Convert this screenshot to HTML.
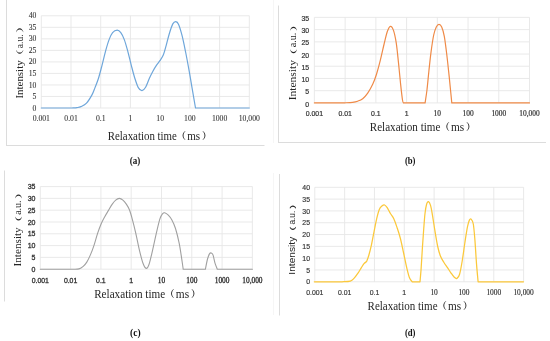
<!DOCTYPE html>
<html><head><meta charset="utf-8"><style>
html,body{margin:0;padding:0;background:#fff;width:550px;height:341px;overflow:hidden}
svg{display:block}
</style></head><body>
<svg width="550" height="341" viewBox="0 0 550 341">
<rect width="550" height="341" fill="#fff"/>

<line x1="6.5" y1="0" x2="6.5" y2="145.5" stroke="#dcdcdc" stroke-width="1"/>
<line x1="6" y1="145.5" x2="264.5" y2="145.5" stroke="#dcdcdc" stroke-width="1"/>
<line x1="273.5" y1="0" x2="273.5" y2="143" stroke="#f6f6f6" stroke-width="1"/>
<line x1="278.5" y1="5.5" x2="278.5" y2="142.5" stroke="#dcdcdc" stroke-width="1"/>
<line x1="278" y1="142.5" x2="546" y2="142.5" stroke="#dcdcdc" stroke-width="1"/>
<line x1="4.5" y1="170.5" x2="4.5" y2="301.5" stroke="#dcdcdc" stroke-width="1"/>
<line x1="273.5" y1="173" x2="273.5" y2="315" stroke="#f6f6f6" stroke-width="1"/>
<line x1="279.5" y1="174" x2="279.5" y2="315.5" stroke="#dcdcdc" stroke-width="1"/>

<line x1="41.30" y1="15.80" x2="249.30" y2="15.80" stroke="#e6e6e6" stroke-width="0.90"/>
<line x1="41.30" y1="27.33" x2="249.30" y2="27.33" stroke="#e6e6e6" stroke-width="0.90"/>
<line x1="41.30" y1="38.85" x2="249.30" y2="38.85" stroke="#e6e6e6" stroke-width="0.90"/>
<line x1="41.30" y1="50.38" x2="249.30" y2="50.38" stroke="#e6e6e6" stroke-width="0.90"/>
<line x1="41.30" y1="61.90" x2="249.30" y2="61.90" stroke="#e6e6e6" stroke-width="0.90"/>
<line x1="41.30" y1="73.42" x2="249.30" y2="73.42" stroke="#e6e6e6" stroke-width="0.90"/>
<line x1="41.30" y1="84.95" x2="249.30" y2="84.95" stroke="#e6e6e6" stroke-width="0.90"/>
<line x1="41.30" y1="96.47" x2="249.30" y2="96.47" stroke="#e6e6e6" stroke-width="0.90"/>
<line x1="41.30" y1="108.00" x2="249.30" y2="108.00" stroke="#e6e6e6" stroke-width="0.90"/>
<line x1="41.30" y1="15.80" x2="41.30" y2="108.00" stroke="#e6e6e6" stroke-width="0.90"/>
<line x1="71.01" y1="15.80" x2="71.01" y2="108.00" stroke="#e6e6e6" stroke-width="0.90"/>
<line x1="100.73" y1="15.80" x2="100.73" y2="108.00" stroke="#e6e6e6" stroke-width="0.90"/>
<line x1="130.44" y1="15.80" x2="130.44" y2="108.00" stroke="#e6e6e6" stroke-width="0.90"/>
<line x1="160.16" y1="15.80" x2="160.16" y2="108.00" stroke="#e6e6e6" stroke-width="0.90"/>
<line x1="189.87" y1="15.80" x2="189.87" y2="108.00" stroke="#e6e6e6" stroke-width="0.90"/>
<line x1="219.59" y1="15.80" x2="219.59" y2="108.00" stroke="#e6e6e6" stroke-width="0.90"/>
<line x1="249.30" y1="15.80" x2="249.30" y2="108.00" stroke="#e6e6e6" stroke-width="0.90"/>
<text x="36.40" y="18.35" text-anchor="end" font-family="'Liberation Serif','Noto Serif CJK SC',serif" font-size="7.70" fill="#333333" stroke="#333333" stroke-width="0.08">40</text>
<text x="36.40" y="29.88" text-anchor="end" font-family="'Liberation Serif','Noto Serif CJK SC',serif" font-size="7.70" fill="#333333" stroke="#333333" stroke-width="0.08">35</text>
<text x="36.40" y="41.40" text-anchor="end" font-family="'Liberation Serif','Noto Serif CJK SC',serif" font-size="7.70" fill="#333333" stroke="#333333" stroke-width="0.08">30</text>
<text x="36.40" y="52.92" text-anchor="end" font-family="'Liberation Serif','Noto Serif CJK SC',serif" font-size="7.70" fill="#333333" stroke="#333333" stroke-width="0.08">25</text>
<text x="36.40" y="64.45" text-anchor="end" font-family="'Liberation Serif','Noto Serif CJK SC',serif" font-size="7.70" fill="#333333" stroke="#333333" stroke-width="0.08">20</text>
<text x="36.40" y="75.97" text-anchor="end" font-family="'Liberation Serif','Noto Serif CJK SC',serif" font-size="7.70" fill="#333333" stroke="#333333" stroke-width="0.08">15</text>
<text x="36.40" y="87.50" text-anchor="end" font-family="'Liberation Serif','Noto Serif CJK SC',serif" font-size="7.70" fill="#333333" stroke="#333333" stroke-width="0.08">10</text>
<text x="36.40" y="99.02" text-anchor="end" font-family="'Liberation Serif','Noto Serif CJK SC',serif" font-size="7.70" fill="#333333" stroke="#333333" stroke-width="0.08">5</text>
<text x="36.40" y="110.55" text-anchor="end" font-family="'Liberation Serif','Noto Serif CJK SC',serif" font-size="7.70" fill="#333333" stroke="#333333" stroke-width="0.08">0</text>
<text x="41.30" y="120.70" text-anchor="middle" font-family="'Liberation Serif','Noto Serif CJK SC',serif" font-size="7.70" fill="#333333" stroke="#333333" stroke-width="0.08">0.001</text>
<text x="71.01" y="120.70" text-anchor="middle" font-family="'Liberation Serif','Noto Serif CJK SC',serif" font-size="7.70" fill="#333333" stroke="#333333" stroke-width="0.08">0.01</text>
<text x="100.73" y="120.70" text-anchor="middle" font-family="'Liberation Serif','Noto Serif CJK SC',serif" font-size="7.70" fill="#333333" stroke="#333333" stroke-width="0.08">0.1</text>
<text x="130.44" y="120.70" text-anchor="middle" font-family="'Liberation Serif','Noto Serif CJK SC',serif" font-size="7.70" fill="#333333" stroke="#333333" stroke-width="0.08">1</text>
<text x="160.16" y="120.70" text-anchor="middle" font-family="'Liberation Serif','Noto Serif CJK SC',serif" font-size="7.70" fill="#333333" stroke="#333333" stroke-width="0.08">10</text>
<text x="189.87" y="120.70" text-anchor="middle" font-family="'Liberation Serif','Noto Serif CJK SC',serif" font-size="7.70" fill="#333333" stroke="#333333" stroke-width="0.08">100</text>
<text x="219.59" y="120.70" text-anchor="middle" font-family="'Liberation Serif','Noto Serif CJK SC',serif" font-size="7.70" fill="#333333" stroke="#333333" stroke-width="0.08">1000</text>
<text x="249.30" y="120.70" text-anchor="middle" font-family="'Liberation Serif','Noto Serif CJK SC',serif" font-size="7.70" fill="#333333" stroke="#333333" stroke-width="0.08">10,000</text>
<text x="107.75" y="139.70" font-family="'Liberation Serif','Noto Serif CJK SC',serif" font-size="11.90" fill="#262626" textLength="69.12" lengthAdjust="spacingAndGlyphs">Relaxation time</text>
<text x="176.51" y="138.90" font-family="'Noto Serif CJK SC','Liberation Serif',serif" font-weight="bold" font-size="9.50" fill="#262626">（</text>
<text x="187.24" y="139.70" font-family="'Liberation Serif','Noto Serif CJK SC',serif" font-size="11.90" fill="#262626" textLength="12.95" lengthAdjust="spacingAndGlyphs">ms</text>
<text x="201.91" y="138.90" font-family="'Noto Serif CJK SC','Liberation Serif',serif" font-weight="bold" font-size="9.50" fill="#262626">）</text>
<text transform="translate(22.60 98.55) rotate(-90)" font-family="'Liberation Serif','Noto Serif CJK SC',serif" font-weight="normal" font-size="11.20" fill="#262626" textLength="38.17" lengthAdjust="spacingAndGlyphs">Intensity</text>
<text transform="translate(22.60 62.25) rotate(-90) scale(1.350 0.800)" font-family="'Noto Serif CJK SC','Liberation Serif',serif" font-weight="bold" font-size="9.77" fill="#262626">（</text>
<text transform="translate(22.60 48.23) rotate(-90)" font-family="'Liberation Serif','Noto Serif CJK SC',serif" font-weight="normal" font-size="11.20" fill="#262626" textLength="13.95" lengthAdjust="spacingAndGlyphs">a.u.</text>
<text transform="translate(22.60 32.91) rotate(-90) scale(1.350 0.800)" font-family="'Noto Serif CJK SC','Liberation Serif',serif" font-weight="bold" font-size="9.77" fill="#262626">）</text>
<path d="M41.30 108.00 L72.00 108.00 M72.00 108.00 C72.83 107.93 75.50 107.83 77.00 107.60 C78.50 107.37 79.42 107.33 81.00 106.60 C82.58 105.87 84.65 105.20 86.50 103.20 C88.35 101.20 90.68 97.20 92.10 94.60 C93.52 92.00 93.93 90.33 95.00 87.60 C96.07 84.87 97.33 81.90 98.50 78.20 C99.67 74.50 100.83 69.88 102.00 65.40 C103.17 60.92 104.32 55.60 105.50 51.30 C106.68 47.00 107.92 42.72 109.10 39.60 C110.28 36.48 111.25 34.17 112.60 32.60 C113.95 31.03 115.83 30.20 117.20 30.20 C118.57 30.20 119.62 31.03 120.80 32.60 C121.98 34.17 123.13 36.48 124.30 39.60 C125.47 42.72 126.63 47.00 127.80 51.30 C128.97 55.60 130.13 60.92 131.30 65.40 C132.47 69.88 133.63 74.50 134.80 78.20 C135.97 81.90 137.10 85.53 138.30 87.60 C139.50 89.67 140.78 90.67 142.00 90.60 C143.22 90.53 144.37 89.27 145.60 87.20 C146.83 85.13 148.18 80.87 149.40 78.20 C150.62 75.53 151.73 73.33 152.90 71.20 C154.07 69.07 155.23 67.15 156.40 65.40 C157.57 63.65 158.73 62.47 159.90 60.70 C161.07 58.93 162.35 57.35 163.40 54.80 C164.45 52.25 165.22 48.92 166.20 45.40 C167.18 41.88 168.20 37.28 169.30 33.70 C170.40 30.12 171.72 25.92 172.80 23.90 C173.88 21.88 174.83 21.52 175.80 21.60 C176.77 21.68 177.53 21.98 178.60 24.40 C179.67 26.82 181.02 31.42 182.20 36.10 C183.38 40.78 184.53 46.65 185.70 52.50 C186.87 58.35 188.15 65.35 189.20 71.20 C190.25 77.05 191.53 84.87 192.00 87.60 M192.00 87.60 L195.50 108.00 L249.30 108.00" fill="none" stroke="#6ea6da" stroke-width="1.20" stroke-linejoin="round" stroke-linecap="round"/>
<text x="129.70" y="164.30" font-family="'Liberation Serif','Noto Serif CJK SC',serif" font-weight="bold" font-size="9.60" fill="#111111" textLength="10.60" lengthAdjust="spacingAndGlyphs">(a)</text>
<line x1="314.40" y1="17.40" x2="529.50" y2="17.40" stroke="#e6e6e6" stroke-width="0.90"/>
<line x1="314.40" y1="29.61" x2="529.50" y2="29.61" stroke="#e6e6e6" stroke-width="0.90"/>
<line x1="314.40" y1="41.83" x2="529.50" y2="41.83" stroke="#e6e6e6" stroke-width="0.90"/>
<line x1="314.40" y1="54.04" x2="529.50" y2="54.04" stroke="#e6e6e6" stroke-width="0.90"/>
<line x1="314.40" y1="66.26" x2="529.50" y2="66.26" stroke="#e6e6e6" stroke-width="0.90"/>
<line x1="314.40" y1="78.47" x2="529.50" y2="78.47" stroke="#e6e6e6" stroke-width="0.90"/>
<line x1="314.40" y1="90.69" x2="529.50" y2="90.69" stroke="#e6e6e6" stroke-width="0.90"/>
<line x1="314.40" y1="102.90" x2="529.50" y2="102.90" stroke="#e6e6e6" stroke-width="0.90"/>
<line x1="314.40" y1="17.40" x2="314.40" y2="102.90" stroke="#e6e6e6" stroke-width="0.90"/>
<line x1="345.13" y1="17.40" x2="345.13" y2="102.90" stroke="#e6e6e6" stroke-width="0.90"/>
<line x1="375.86" y1="17.40" x2="375.86" y2="102.90" stroke="#e6e6e6" stroke-width="0.90"/>
<line x1="406.59" y1="17.40" x2="406.59" y2="102.90" stroke="#e6e6e6" stroke-width="0.90"/>
<line x1="437.31" y1="17.40" x2="437.31" y2="102.90" stroke="#e6e6e6" stroke-width="0.90"/>
<line x1="468.04" y1="17.40" x2="468.04" y2="102.90" stroke="#e6e6e6" stroke-width="0.90"/>
<line x1="498.77" y1="17.40" x2="498.77" y2="102.90" stroke="#e6e6e6" stroke-width="0.90"/>
<line x1="529.50" y1="17.40" x2="529.50" y2="102.90" stroke="#e6e6e6" stroke-width="0.90"/>
<text x="309.10" y="21.00" text-anchor="end" font-family="'Liberation Sans','Noto Sans CJK SC',sans-serif" font-size="6.90" fill="#333333" stroke="#333333" stroke-width="0.20">35</text>
<text x="309.10" y="33.21" text-anchor="end" font-family="'Liberation Sans','Noto Sans CJK SC',sans-serif" font-size="6.90" fill="#333333" stroke="#333333" stroke-width="0.20">30</text>
<text x="309.10" y="45.43" text-anchor="end" font-family="'Liberation Sans','Noto Sans CJK SC',sans-serif" font-size="6.90" fill="#333333" stroke="#333333" stroke-width="0.20">25</text>
<text x="309.10" y="57.64" text-anchor="end" font-family="'Liberation Sans','Noto Sans CJK SC',sans-serif" font-size="6.90" fill="#333333" stroke="#333333" stroke-width="0.20">20</text>
<text x="309.10" y="69.86" text-anchor="end" font-family="'Liberation Sans','Noto Sans CJK SC',sans-serif" font-size="6.90" fill="#333333" stroke="#333333" stroke-width="0.20">15</text>
<text x="309.10" y="82.07" text-anchor="end" font-family="'Liberation Sans','Noto Sans CJK SC',sans-serif" font-size="6.90" fill="#333333" stroke="#333333" stroke-width="0.20">10</text>
<text x="309.10" y="94.29" text-anchor="end" font-family="'Liberation Sans','Noto Sans CJK SC',sans-serif" font-size="6.90" fill="#333333" stroke="#333333" stroke-width="0.20">5</text>
<text x="309.10" y="106.50" text-anchor="end" font-family="'Liberation Sans','Noto Sans CJK SC',sans-serif" font-size="6.90" fill="#333333" stroke="#333333" stroke-width="0.20">0</text>
<text x="314.40" y="116.00" text-anchor="middle" font-family="'Liberation Sans','Noto Sans CJK SC',sans-serif" font-size="6.90" fill="#333333" stroke="#333333" stroke-width="0.20">0.001</text>
<text x="345.13" y="116.00" text-anchor="middle" font-family="'Liberation Sans','Noto Sans CJK SC',sans-serif" font-size="6.90" fill="#333333" stroke="#333333" stroke-width="0.20">0.01</text>
<text x="375.86" y="116.00" text-anchor="middle" font-family="'Liberation Sans','Noto Sans CJK SC',sans-serif" font-size="6.90" fill="#333333" stroke="#333333" stroke-width="0.20">0.1</text>
<text x="406.59" y="116.00" text-anchor="middle" font-family="'Liberation Sans','Noto Sans CJK SC',sans-serif" font-size="6.90" fill="#333333" stroke="#333333" stroke-width="0.20">1</text>
<text x="437.31" y="116.00" text-anchor="middle" font-family="'Liberation Serif','Noto Serif CJK SC',serif" font-size="7.40" fill="#333333" stroke="#333333" stroke-width="0.20">10</text>
<text x="468.04" y="116.00" text-anchor="middle" font-family="'Liberation Serif','Noto Serif CJK SC',serif" font-size="7.40" fill="#333333" stroke="#333333" stroke-width="0.20">100</text>
<text x="498.77" y="116.00" text-anchor="middle" font-family="'Liberation Serif','Noto Serif CJK SC',serif" font-size="7.40" fill="#333333" stroke="#333333" stroke-width="0.20">1000</text>
<text x="529.50" y="116.00" text-anchor="middle" font-family="'Liberation Serif','Noto Serif CJK SC',serif" font-size="7.40" fill="#333333" stroke="#333333" stroke-width="0.20">10,000</text>
<text x="369.75" y="131.20" font-family="'Liberation Serif','Noto Serif CJK SC',serif" font-size="11.90" fill="#262626" textLength="70.69" lengthAdjust="spacingAndGlyphs">Relaxation time</text>
<text x="440.21" y="130.40" font-family="'Noto Serif CJK SC','Liberation Serif',serif" font-weight="bold" font-size="9.50" fill="#262626">（</text>
<text x="451.04" y="131.20" font-family="'Liberation Serif','Noto Serif CJK SC',serif" font-size="11.90" fill="#262626" textLength="13.25" lengthAdjust="spacingAndGlyphs">ms</text>
<text x="466.06" y="130.40" font-family="'Noto Serif CJK SC','Liberation Serif',serif" font-weight="bold" font-size="9.50" fill="#262626">）</text>
<text transform="translate(296.20 100.25) rotate(-90)" font-family="'Liberation Serif','Noto Serif CJK SC',serif" font-weight="normal" font-size="10.60" fill="#262626" textLength="40.14" lengthAdjust="spacingAndGlyphs">Intensity</text>
<text transform="translate(296.20 61.18) rotate(-90) scale(1.350 0.800)" font-family="'Noto Serif CJK SC','Liberation Serif',serif" font-weight="bold" font-size="9.25" fill="#262626">（</text>
<text transform="translate(296.20 47.34) rotate(-90)" font-family="'Liberation Serif','Noto Serif CJK SC',serif" font-weight="normal" font-size="10.60" fill="#262626" textLength="14.67" lengthAdjust="spacingAndGlyphs">a.u.</text>
<text transform="translate(296.20 31.13) rotate(-90) scale(1.350 0.800)" font-family="'Noto Serif CJK SC','Liberation Serif',serif" font-weight="bold" font-size="9.25" fill="#262626">）</text>
<path d="M314.40 102.90 L340.00 102.90 M340.00 102.90 C340.83 102.88 342.90 102.90 345.00 102.80 C347.10 102.70 350.50 102.57 352.60 102.30 C354.70 102.03 355.92 101.80 357.60 101.20 C359.28 100.60 361.02 100.05 362.70 98.70 C364.38 97.35 366.03 95.50 367.70 93.10 C369.37 90.70 371.23 87.45 372.70 84.30 C374.17 81.15 375.23 78.18 376.50 74.20 C377.77 70.22 379.03 65.43 380.30 60.40 C381.57 55.37 382.92 48.85 384.10 44.00 C385.28 39.15 386.35 34.25 387.40 31.30 C388.45 28.35 389.40 26.50 390.40 26.30 C391.40 26.10 392.43 27.37 393.40 30.10 C394.37 32.83 395.35 37.23 396.20 42.70 C397.05 48.17 397.78 56.17 398.50 62.90 C399.22 69.63 399.83 76.92 400.50 83.10 C401.17 89.28 402.00 96.70 402.50 100.00 C403.00 103.30 403.33 102.42 403.50 102.90 M403.50 102.90 L425.10 102.90 M425.10 102.90 C425.42 100.70 426.37 95.02 427.00 89.70 C427.63 84.38 428.23 77.23 428.90 71.00 C429.57 64.77 430.20 58.30 431.00 52.30 C431.80 46.30 432.82 39.22 433.70 35.00 C434.58 30.78 435.42 28.78 436.30 27.00 C437.18 25.22 438.10 24.30 439.00 24.30 C439.90 24.30 440.82 25.00 441.70 27.00 C442.58 29.00 443.50 32.08 444.30 36.30 C445.10 40.52 445.78 46.52 446.50 52.30 C447.22 58.08 447.93 64.77 448.60 71.00 C449.27 77.23 449.97 84.38 450.50 89.70 C451.03 95.02 451.58 100.70 451.80 102.90 M451.80 102.90 L529.50 102.90" fill="none" stroke="#ef8a47" stroke-width="1.20" stroke-linejoin="round" stroke-linecap="round"/>
<text x="404.90" y="164.00" font-family="'Liberation Serif','Noto Serif CJK SC',serif" font-weight="bold" font-size="9.60" fill="#111111" textLength="10.60" lengthAdjust="spacingAndGlyphs">(b)</text>
<line x1="40.30" y1="186.60" x2="252.40" y2="186.60" stroke="#e6e6e6" stroke-width="0.90"/>
<line x1="40.30" y1="198.40" x2="252.40" y2="198.40" stroke="#e6e6e6" stroke-width="0.90"/>
<line x1="40.30" y1="210.20" x2="252.40" y2="210.20" stroke="#e6e6e6" stroke-width="0.90"/>
<line x1="40.30" y1="222.00" x2="252.40" y2="222.00" stroke="#e6e6e6" stroke-width="0.90"/>
<line x1="40.30" y1="233.80" x2="252.40" y2="233.80" stroke="#e6e6e6" stroke-width="0.90"/>
<line x1="40.30" y1="245.60" x2="252.40" y2="245.60" stroke="#e6e6e6" stroke-width="0.90"/>
<line x1="40.30" y1="257.40" x2="252.40" y2="257.40" stroke="#e6e6e6" stroke-width="0.90"/>
<line x1="40.30" y1="269.20" x2="252.40" y2="269.20" stroke="#e6e6e6" stroke-width="0.90"/>
<line x1="40.30" y1="186.60" x2="40.30" y2="269.20" stroke="#e6e6e6" stroke-width="0.90"/>
<line x1="70.60" y1="186.60" x2="70.60" y2="269.20" stroke="#e6e6e6" stroke-width="0.90"/>
<line x1="100.90" y1="186.60" x2="100.90" y2="269.20" stroke="#e6e6e6" stroke-width="0.90"/>
<line x1="131.20" y1="186.60" x2="131.20" y2="269.20" stroke="#e6e6e6" stroke-width="0.90"/>
<line x1="161.50" y1="186.60" x2="161.50" y2="269.20" stroke="#e6e6e6" stroke-width="0.90"/>
<line x1="191.80" y1="186.60" x2="191.80" y2="269.20" stroke="#e6e6e6" stroke-width="0.90"/>
<line x1="222.10" y1="186.60" x2="222.10" y2="269.20" stroke="#e6e6e6" stroke-width="0.90"/>
<line x1="252.40" y1="186.60" x2="252.40" y2="269.20" stroke="#e6e6e6" stroke-width="0.90"/>
<text x="35.50" y="189.10" text-anchor="end" font-family="'Liberation Sans','Noto Sans CJK SC',sans-serif" font-size="7.00" fill="#333333" stroke="#333333" stroke-width="0.30">35</text>
<text x="35.50" y="200.90" text-anchor="end" font-family="'Liberation Sans','Noto Sans CJK SC',sans-serif" font-size="7.00" fill="#333333" stroke="#333333" stroke-width="0.30">30</text>
<text x="35.50" y="212.70" text-anchor="end" font-family="'Liberation Sans','Noto Sans CJK SC',sans-serif" font-size="7.00" fill="#333333" stroke="#333333" stroke-width="0.30">25</text>
<text x="35.50" y="224.50" text-anchor="end" font-family="'Liberation Sans','Noto Sans CJK SC',sans-serif" font-size="7.00" fill="#333333" stroke="#333333" stroke-width="0.30">20</text>
<text x="35.50" y="236.30" text-anchor="end" font-family="'Liberation Sans','Noto Sans CJK SC',sans-serif" font-size="7.00" fill="#333333" stroke="#333333" stroke-width="0.30">15</text>
<text x="35.50" y="248.10" text-anchor="end" font-family="'Liberation Sans','Noto Sans CJK SC',sans-serif" font-size="7.00" fill="#333333" stroke="#333333" stroke-width="0.30">10</text>
<text x="35.50" y="259.90" text-anchor="end" font-family="'Liberation Sans','Noto Sans CJK SC',sans-serif" font-size="7.00" fill="#333333" stroke="#333333" stroke-width="0.30">5</text>
<text x="35.50" y="271.70" text-anchor="end" font-family="'Liberation Sans','Noto Sans CJK SC',sans-serif" font-size="7.00" fill="#333333" stroke="#333333" stroke-width="0.30">0</text>
<text x="40.30" y="283.00" text-anchor="middle" font-family="'Liberation Sans','Noto Sans CJK SC',sans-serif" font-size="6.90" fill="#333333" stroke="#333333" stroke-width="0.30">0.001</text>
<text x="70.60" y="283.00" text-anchor="middle" font-family="'Liberation Sans','Noto Sans CJK SC',sans-serif" font-size="6.90" fill="#333333" stroke="#333333" stroke-width="0.30">0.01</text>
<text x="100.90" y="283.00" text-anchor="middle" font-family="'Liberation Sans','Noto Sans CJK SC',sans-serif" font-size="6.90" fill="#333333" stroke="#333333" stroke-width="0.30">0.1</text>
<text x="131.20" y="283.00" text-anchor="middle" font-family="'Liberation Sans','Noto Sans CJK SC',sans-serif" font-size="6.90" fill="#333333" stroke="#333333" stroke-width="0.30">1</text>
<text x="161.50" y="283.00" text-anchor="middle" font-family="'Liberation Serif','Noto Serif CJK SC',serif" font-size="7.40" fill="#333333" stroke="#333333" stroke-width="0.30">10</text>
<text x="191.80" y="283.00" text-anchor="middle" font-family="'Liberation Serif','Noto Serif CJK SC',serif" font-size="7.40" fill="#333333" stroke="#333333" stroke-width="0.30">100</text>
<text x="222.10" y="283.00" text-anchor="middle" font-family="'Liberation Serif','Noto Serif CJK SC',serif" font-size="7.40" fill="#333333" stroke="#333333" stroke-width="0.30">1000</text>
<text x="252.40" y="283.00" text-anchor="middle" font-family="'Liberation Serif','Noto Serif CJK SC',serif" font-size="7.40" fill="#333333" stroke="#333333" stroke-width="0.30">10,000</text>
<text x="94.15" y="297.90" font-family="'Liberation Serif','Noto Serif CJK SC',serif" font-size="11.90" fill="#262626" textLength="71.03" lengthAdjust="spacingAndGlyphs">Relaxation time</text>
<text x="164.98" y="297.10" font-family="'Noto Serif CJK SC','Liberation Serif',serif" font-weight="bold" font-size="9.50" fill="#262626">（</text>
<text x="175.83" y="297.90" font-family="'Liberation Serif','Noto Serif CJK SC',serif" font-size="11.90" fill="#262626" textLength="13.31" lengthAdjust="spacingAndGlyphs">ms</text>
<text x="190.93" y="297.10" font-family="'Noto Serif CJK SC','Liberation Serif',serif" font-weight="bold" font-size="9.50" fill="#262626">）</text>
<text transform="translate(21.20 266.45) rotate(-90)" font-family="'Liberation Serif','Noto Serif CJK SC',serif" font-weight="normal" font-size="10.60" fill="#262626" textLength="39.17" lengthAdjust="spacingAndGlyphs">Intensity</text>
<text transform="translate(21.20 228.51) rotate(-90) scale(1.350 0.800)" font-family="'Noto Serif CJK SC','Liberation Serif',serif" font-weight="bold" font-size="9.25" fill="#262626">（</text>
<text transform="translate(21.20 214.81) rotate(-90)" font-family="'Liberation Serif','Noto Serif CJK SC',serif" font-weight="normal" font-size="10.60" fill="#262626" textLength="14.32" lengthAdjust="spacingAndGlyphs">a.u.</text>
<text transform="translate(21.20 199.01) rotate(-90) scale(1.350 0.800)" font-family="'Noto Serif CJK SC','Liberation Serif',serif" font-weight="bold" font-size="9.25" fill="#262626">）</text>
<path d="M40.30 269.20 L73.00 269.20 M73.00 269.20 C74.00 269.15 77.30 269.37 79.00 268.90 C80.70 268.43 81.90 267.53 83.20 266.40 C84.50 265.27 85.60 264.02 86.80 262.10 C88.00 260.18 89.20 257.70 90.40 254.90 C91.60 252.10 92.80 248.90 94.00 245.30 C95.20 241.70 96.40 236.90 97.60 233.30 C98.80 229.70 99.98 226.52 101.20 223.70 C102.42 220.88 103.68 218.62 104.90 216.40 C106.12 214.18 107.30 212.40 108.50 210.40 C109.70 208.40 110.90 206.12 112.10 204.40 C113.30 202.68 114.50 201.10 115.70 200.10 C116.90 199.10 118.10 198.40 119.30 198.40 C120.50 198.40 121.70 199.10 122.90 200.10 C124.10 201.10 125.40 202.75 126.50 204.40 C127.60 206.05 128.55 207.60 129.50 210.00 C130.45 212.40 131.15 214.92 132.20 218.80 C133.25 222.68 134.60 228.08 135.80 233.30 C137.00 238.52 138.20 245.10 139.40 250.10 C140.60 255.10 141.87 260.25 143.00 263.30 C144.13 266.35 145.20 268.20 146.20 268.40 C147.20 268.60 147.93 267.55 149.00 264.50 C150.07 261.45 151.38 255.30 152.60 250.10 C153.82 244.90 155.08 238.52 156.30 233.30 C157.52 228.08 158.83 222.08 159.90 218.80 C160.97 215.52 161.90 214.60 162.70 213.60 C163.50 212.60 163.77 212.53 164.70 212.80 C165.63 213.07 167.10 214.00 168.30 215.20 C169.50 216.40 170.70 217.78 171.90 220.00 C173.10 222.22 174.30 224.68 175.50 228.50 C176.70 232.32 178.10 238.10 179.10 242.90 C180.10 247.70 180.82 252.92 181.50 257.30 C182.18 261.68 182.92 267.22 183.20 269.20 M183.20 269.20 L205.40 269.20 M205.40 269.20 C205.75 267.50 206.82 261.55 207.50 259.00 C208.18 256.45 208.90 254.92 209.50 253.90 C210.10 252.88 210.52 252.73 211.10 252.90 C211.68 253.07 212.35 253.20 213.00 254.90 C213.65 256.60 214.28 260.72 215.00 263.10 C215.72 265.48 216.92 268.18 217.30 269.20 M217.30 269.20 L252.40 269.20" fill="none" stroke="#a0a0a0" stroke-width="1.10" stroke-linejoin="round" stroke-linecap="round"/>
<text x="130.00" y="335.50" font-family="'Liberation Serif','Noto Serif CJK SC',serif" font-weight="bold" font-size="9.60" fill="#111111" textLength="10.60" lengthAdjust="spacingAndGlyphs">(c)</text>
<line x1="314.80" y1="187.30" x2="523.60" y2="187.30" stroke="#e6e6e6" stroke-width="0.90"/>
<line x1="314.80" y1="199.11" x2="523.60" y2="199.11" stroke="#e6e6e6" stroke-width="0.90"/>
<line x1="314.80" y1="210.93" x2="523.60" y2="210.93" stroke="#e6e6e6" stroke-width="0.90"/>
<line x1="314.80" y1="222.74" x2="523.60" y2="222.74" stroke="#e6e6e6" stroke-width="0.90"/>
<line x1="314.80" y1="234.55" x2="523.60" y2="234.55" stroke="#e6e6e6" stroke-width="0.90"/>
<line x1="314.80" y1="246.36" x2="523.60" y2="246.36" stroke="#e6e6e6" stroke-width="0.90"/>
<line x1="314.80" y1="258.18" x2="523.60" y2="258.18" stroke="#e6e6e6" stroke-width="0.90"/>
<line x1="314.80" y1="269.99" x2="523.60" y2="269.99" stroke="#e6e6e6" stroke-width="0.90"/>
<line x1="314.80" y1="281.80" x2="523.60" y2="281.80" stroke="#e6e6e6" stroke-width="0.90"/>
<line x1="314.80" y1="187.30" x2="314.80" y2="281.80" stroke="#e6e6e6" stroke-width="0.90"/>
<line x1="344.63" y1="187.30" x2="344.63" y2="281.80" stroke="#e6e6e6" stroke-width="0.90"/>
<line x1="374.46" y1="187.30" x2="374.46" y2="281.80" stroke="#e6e6e6" stroke-width="0.90"/>
<line x1="404.29" y1="187.30" x2="404.29" y2="281.80" stroke="#e6e6e6" stroke-width="0.90"/>
<line x1="434.11" y1="187.30" x2="434.11" y2="281.80" stroke="#e6e6e6" stroke-width="0.90"/>
<line x1="463.94" y1="187.30" x2="463.94" y2="281.80" stroke="#e6e6e6" stroke-width="0.90"/>
<line x1="493.77" y1="187.30" x2="493.77" y2="281.80" stroke="#e6e6e6" stroke-width="0.90"/>
<line x1="523.60" y1="187.30" x2="523.60" y2="281.80" stroke="#e6e6e6" stroke-width="0.90"/>
<text x="310.00" y="189.90" text-anchor="end" font-family="'Liberation Sans','Noto Sans CJK SC',sans-serif" font-size="6.90" fill="#333333" stroke="#333333" stroke-width="0.15">40</text>
<text x="310.00" y="201.71" text-anchor="end" font-family="'Liberation Sans','Noto Sans CJK SC',sans-serif" font-size="6.90" fill="#333333" stroke="#333333" stroke-width="0.15">35</text>
<text x="310.00" y="213.53" text-anchor="end" font-family="'Liberation Sans','Noto Sans CJK SC',sans-serif" font-size="6.90" fill="#333333" stroke="#333333" stroke-width="0.15">30</text>
<text x="310.00" y="225.34" text-anchor="end" font-family="'Liberation Sans','Noto Sans CJK SC',sans-serif" font-size="6.90" fill="#333333" stroke="#333333" stroke-width="0.15">25</text>
<text x="310.00" y="237.15" text-anchor="end" font-family="'Liberation Sans','Noto Sans CJK SC',sans-serif" font-size="6.90" fill="#333333" stroke="#333333" stroke-width="0.15">20</text>
<text x="310.00" y="248.96" text-anchor="end" font-family="'Liberation Sans','Noto Sans CJK SC',sans-serif" font-size="6.90" fill="#333333" stroke="#333333" stroke-width="0.15">15</text>
<text x="310.00" y="260.78" text-anchor="end" font-family="'Liberation Sans','Noto Sans CJK SC',sans-serif" font-size="6.90" fill="#333333" stroke="#333333" stroke-width="0.15">10</text>
<text x="310.00" y="272.59" text-anchor="end" font-family="'Liberation Sans','Noto Sans CJK SC',sans-serif" font-size="6.90" fill="#333333" stroke="#333333" stroke-width="0.15">5</text>
<text x="310.00" y="284.40" text-anchor="end" font-family="'Liberation Sans','Noto Sans CJK SC',sans-serif" font-size="6.90" fill="#333333" stroke="#333333" stroke-width="0.15">0</text>
<text x="314.80" y="294.80" text-anchor="middle" font-family="'Liberation Sans','Noto Sans CJK SC',sans-serif" font-size="6.90" fill="#333333" stroke="#333333" stroke-width="0.15">0.001</text>
<text x="344.63" y="294.80" text-anchor="middle" font-family="'Liberation Sans','Noto Sans CJK SC',sans-serif" font-size="6.90" fill="#333333" stroke="#333333" stroke-width="0.15">0.01</text>
<text x="374.46" y="294.80" text-anchor="middle" font-family="'Liberation Sans','Noto Sans CJK SC',sans-serif" font-size="6.90" fill="#333333" stroke="#333333" stroke-width="0.15">0.1</text>
<text x="404.29" y="294.80" text-anchor="middle" font-family="'Liberation Sans','Noto Sans CJK SC',sans-serif" font-size="6.90" fill="#333333" stroke="#333333" stroke-width="0.15">1</text>
<text x="434.11" y="294.80" text-anchor="middle" font-family="'Liberation Serif','Noto Serif CJK SC',serif" font-size="7.40" fill="#333333" stroke="#333333" stroke-width="0.15">10</text>
<text x="463.94" y="294.80" text-anchor="middle" font-family="'Liberation Serif','Noto Serif CJK SC',serif" font-size="7.40" fill="#333333" stroke="#333333" stroke-width="0.15">100</text>
<text x="493.77" y="294.80" text-anchor="middle" font-family="'Liberation Serif','Noto Serif CJK SC',serif" font-size="7.40" fill="#333333" stroke="#333333" stroke-width="0.15">1000</text>
<text x="523.60" y="294.80" text-anchor="middle" font-family="'Liberation Serif','Noto Serif CJK SC',serif" font-size="7.40" fill="#333333" stroke="#333333" stroke-width="0.15">10,000</text>
<text x="367.55" y="309.90" font-family="'Liberation Serif','Noto Serif CJK SC',serif" font-size="11.90" fill="#262626" textLength="70.01" lengthAdjust="spacingAndGlyphs">Relaxation time</text>
<text x="437.27" y="309.10" font-family="'Noto Serif CJK SC','Liberation Serif',serif" font-weight="bold" font-size="9.50" fill="#262626">（</text>
<text x="448.06" y="309.90" font-family="'Liberation Serif','Noto Serif CJK SC',serif" font-size="11.90" fill="#262626" textLength="13.12" lengthAdjust="spacingAndGlyphs">ms</text>
<text x="462.93" y="309.10" font-family="'Noto Serif CJK SC','Liberation Serif',serif" font-weight="bold" font-size="9.50" fill="#262626">）</text>
<text transform="translate(294.80 274.65) rotate(-90)" font-family="'Liberation Sans','Noto Sans CJK SC',sans-serif" font-weight="normal" font-size="9.40" fill="#262626" textLength="37.94" lengthAdjust="spacingAndGlyphs">Intensity</text>
<text transform="translate(294.80 237.23) rotate(-90) scale(1.350 0.800)" font-family="'Noto Sans CJK SC','Liberation Sans',sans-serif" font-weight="bold" font-size="8.20" fill="#262626">（</text>
<text transform="translate(294.80 224.62) rotate(-90)" font-family="'Liberation Sans','Noto Sans CJK SC',sans-serif" font-weight="normal" font-size="9.40" fill="#262626" textLength="13.87" lengthAdjust="spacingAndGlyphs">a.u.</text>
<text transform="translate(294.80 209.24) rotate(-90) scale(1.350 0.800)" font-family="'Noto Sans CJK SC','Liberation Sans',sans-serif" font-weight="bold" font-size="8.20" fill="#262626">）</text>
<path d="M314.30 281.80 L342.00 281.80 M342.00 281.80 C343.38 281.68 348.27 281.72 350.30 281.10 C352.33 280.48 352.88 279.48 354.20 278.10 C355.52 276.72 357.00 274.55 358.20 272.80 C359.40 271.05 360.43 269.13 361.40 267.60 C362.37 266.07 363.13 264.62 364.00 263.60 C364.87 262.58 366.17 261.85 366.60 261.50 M366.60 261.50 C366.95 260.53 367.90 258.43 368.70 255.70 C369.50 252.97 370.52 249.07 371.40 245.10 C372.28 241.13 373.12 236.30 374.00 231.90 C374.88 227.50 375.82 222.43 376.70 218.70 C377.58 214.97 378.43 211.60 379.30 209.50 C380.17 207.40 381.02 206.85 381.90 206.10 C382.78 205.35 383.72 204.73 384.60 205.00 C385.48 205.27 386.23 206.28 387.20 207.70 C388.17 209.12 389.30 211.67 390.40 213.50 C391.50 215.33 392.67 216.28 393.80 218.70 C394.93 221.12 396.10 224.70 397.20 228.00 C398.30 231.30 399.33 234.33 400.40 238.50 C401.47 242.67 402.50 247.93 403.60 253.00 C404.70 258.07 406.00 264.72 407.00 268.90 C408.00 273.08 408.72 275.95 409.60 278.10 C410.48 280.25 411.85 281.18 412.30 281.80 M412.30 281.80 L420.00 281.80 M420.00 281.80 C420.18 279.65 420.70 274.57 421.10 268.90 C421.50 263.23 421.97 254.40 422.40 247.80 C422.83 241.20 423.27 235.02 423.70 229.30 C424.13 223.58 424.52 217.68 425.00 213.50 C425.48 209.32 426.02 206.18 426.60 204.20 C427.18 202.22 427.83 201.37 428.50 201.60 C429.17 201.83 429.95 203.40 430.60 205.60 C431.25 207.80 431.65 210.42 432.40 214.80 C433.15 219.18 434.22 226.62 435.10 231.90 C435.98 237.18 436.83 242.53 437.70 246.50 C438.57 250.47 439.28 253.07 440.30 255.70 C441.32 258.33 442.60 260.32 443.80 262.30 C445.00 264.28 446.32 265.85 447.50 267.60 C448.68 269.35 449.77 271.18 450.90 272.80 C452.03 274.42 453.28 276.37 454.30 277.30 C455.32 278.23 456.12 278.92 457.00 278.40 C457.88 277.88 458.73 277.10 459.60 274.20 C460.47 271.30 461.32 266.28 462.20 261.00 C463.08 255.72 464.02 248.22 464.90 242.50 C465.78 236.78 466.75 230.43 467.50 226.70 C468.25 222.97 468.78 221.33 469.40 220.10 C470.02 218.87 470.55 218.65 471.20 219.30 C471.85 219.95 472.68 220.57 473.30 224.00 C473.92 227.43 474.37 233.30 474.90 239.90 C475.43 246.50 475.97 256.62 476.50 263.60 C477.03 270.58 477.83 278.77 478.10 281.80 M478.10 281.80 L523.50 281.80" fill="none" stroke="#fbc83a" stroke-width="1.25" stroke-linejoin="round" stroke-linecap="round"/>
<text x="404.90" y="335.50" font-family="'Liberation Serif','Noto Serif CJK SC',serif" font-weight="bold" font-size="9.60" fill="#111111" textLength="10.60" lengthAdjust="spacingAndGlyphs">(d)</text>
</svg>
</body></html>
